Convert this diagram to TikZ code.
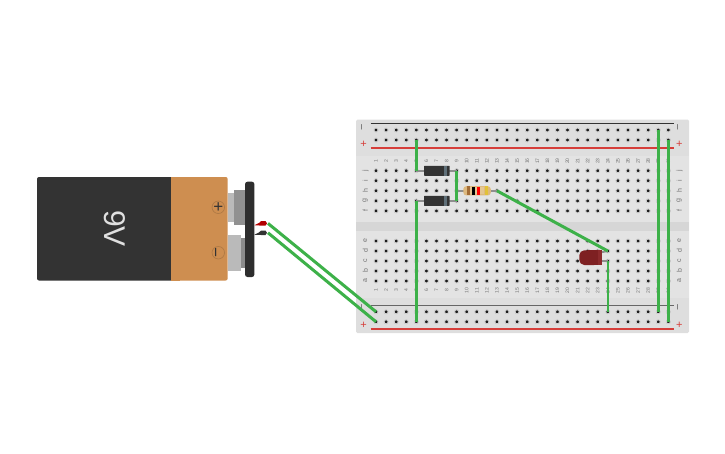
\documentclass[tikz,border=0pt]{standalone}
\usepackage{fontspec}
\setmainfont{Liberation Sans}
\definecolor{boardcol}{HTML}{DEDEDE}
\definecolor{stripcol}{HTML}{E3E3E3}
\definecolor{groovecol}{HTML}{D6D6D6}
\definecolor{holecol}{HTML}{1C1C1C}
\definecolor{halocol}{HTML}{CFCFCF}
\definecolor{wirecol}{HTML}{3DB149}
\definecolor{leadcol}{HTML}{8E8E8E}
\definecolor{plusred}{RGB}{214,62,58}
\definecolor{copper}{HTML}{CE8E50}
\definecolor{termline}{HTML}{B07A45}
\definecolor{caseblack}{HTML}{333333}
\definecolor{stripegrey}{HTML}{5F6F78}
\definecolor{restan}{HTML}{DDB97F}
\definecolor{resmid}{HTML}{E4C692}
\definecolor{ledred}{HTML}{7E2022}
\definecolor{ledrim}{HTML}{8C2A2C}
\begin{document}
\begin{tikzpicture}[x=1pt, y=-1pt, font=\sffamily,
                              hole/.style={shape=circle, fill=holecol, draw=halocol, line width=0.9, inner sep=0, minimum size=4},
                              wire/.style={draw=wirecol, line width=3},
                              thinwire/.style={draw=wirecol, line width=2.4},
                              lead/.style={draw=leadcol, line width=1.9},
                              tinylabel/.style={text=black!55, rotate=90, inner sep=0, font=\fontsize{5}{5}\selectfont},
                              rowlabel/.style={text=black!55, rotate=90, inner sep=0, font=\fontsize{7}{7}\selectfont},
                              minuslabel/.style={text=black!60, rotate=90, inner sep=0, font=\fontsize{11}{11}\selectfont},
                              pluslabel/.style={text=plusred, inner sep=0, font=\fontsize{11}{11}\selectfont},
                              diode/.style={shape=rectangle, fill=caseblack, rounded corners=0.5, minimum width=25.5, minimum height=10, inner sep=0},
                              band/.style={minimum width=2.4, minimum height=9, inner sep=0, shape=rectangle},
                              term/.style={shape=circle, draw=termline, line width=0.7, minimum size=12.5, inner sep=0}]
        \useasboundingbox (0,0) rectangle (725,453);

        % breadboard
        \fill[boardcol, rounded corners=1.5] (356,119.5) rectangle (689,333);
        \fill[stripcol] (356,155.5) rectangle (689,222);
        \fill[stripcol] (356,231) rectangle (689,297.5);
        \fill[groovecol] (356,222) rectangle (689,231);
        \draw[black!80, line width=1] (370.5,123.7) -- (674,123.7);
        \draw[plusred, line width=1.5] (370.5,147.9) -- (674,147.9);
        \draw[black!60, line width=1] (370.5,305) -- (674,305);
        \draw[plusred, line width=1.1] (370.5,329) -- (674,329);

        \foreach \rowname/\rowy in {tm/130, tp/140, j/170.7, i/180.7, h/190.8, g/200.9, f/210.9,
                                    e/241, d/251, c/261, b/271, a/281, bm/311.8, bp/321.8} {
            \foreach \col in {1,...,30} {
                \node[hole] (\rowname\col) at ({376+(\col-1)*10.08},\rowy) {};
            }
        }
        \foreach \col in {1,...,30} {
            \node[tinylabel] (numtop\col) at ({376+(\col-1)*10.08},161) {\col};
            \node[tinylabel] (numbot\col) at ({376+(\col-1)*10.08},290.5) {\col};
        }
        \foreach \rowname/\rowy in {j/170.7, i/180.7, h/190.8, g/200.9, f/210.9, e/241, d/251, c/261, b/271, a/281} {
            \node[rowlabel] (left\rowname) at (365.3,\rowy) {\rowname};
            \node[rowlabel] (right\rowname) at (679.3,\rowy) {\rowname};
        }
        \node[minuslabel] (minusa) at (363.4,127) {−};
        \node[minuslabel] (minusb) at (679.3,127) {−};
        \node[minuslabel] (minusc) at (363.4,307) {−};
        \node[minuslabel] (minusd) at (679.3,307.5) {−};
        \node[pluslabel] (plusa) at (363.6,144.6) {+};
        \node[pluslabel] (plusb) at (679.3,144.6) {+};
        \node[pluslabel] (plusc) at (363.6,325) {+};
        \node[pluslabel] (plusd) at (679.3,325) {+};

        % parts on the board
        \draw[lead] (j5.center) -- (j9.center);
        \draw[lead] (g5.center) -- (g9.center);
        \draw[lead] (h9.center) -- (h13.center);
        \node[diode] (diodea) at (436.8,170.8) {};
        \node[diode] (diodeb) at (436.8,200.9) {};
        \node[band, minimum width=3, minimum height=10, fill=stripegrey] (stripea) at (445.2,170.8) {};
        \node[band, minimum width=3, minimum height=10, fill=stripegrey] (stripeb) at (445.2,200.9) {};
        \draw[thinwire] (j9.center) -- (g9.center);

        \fill[restan, rounded corners=3] (463.3,186.2) rectangle (490.8,195.4);
        \fill[resmid] (469,187.2) rectangle (484,194.4);
        \node[band, fill=brown!85!black] (banda) at (468.4,190.8) {};
        \node[band, fill=black, minimum height=7.4] (bandb) at (473.6,190.8) {};
        \node[band, fill=red, minimum height=7.4] (bandc) at (478.4,190.8) {};
        \node[band, fill=yellow!50!brown] (bandd) at (486.6,190.8) {};

        \coordinate (ledtop) at (600,252.5);
        \coordinate (ledbot) at (600,261);
        \draw[lead] (ledtop) -- (d24.center);
        \draw[lead] (ledbot) -- (c24.center);
        \fill[ledred, rounded corners=5] (579.3,250.3) rectangle (599,265);
        \fill[ledred] (588,250.3) rectangle (599,265);
        \fill[ledrim] (597.5,249.8) rectangle (601.5,265.3);

        % battery
        \fill[caseblack, rounded corners=2] (37,177) rectangle (180,280.5);
        \fill[copper, rounded corners=2] (175,177) rectangle (227.7,280.5);
        \fill[copper] (171,177) rectangle (180,280.5);
        \fill[black!27] (227.7,192.7) rectangle (234,222.3);
        \fill[black!43] (234,190) rectangle (246,225);
        \fill[black!27] (227.7,235) rectangle (241,270.7);
        \fill[black!45] (241,238) rectangle (246,268);
        \fill[black!82, rounded corners=2.5] (245,181.7) rectangle (254.4,277);
        \node[text=white!88!black, rotate=-90, inner sep=0, font=\fontsize{30}{30}\selectfont] (volts) at (114.5,228.5) {9V};
        \node[term] (plusterm) at (218.3,207.3) {};
        \node[term] (minusterm) at (218.3,252.7) {};
        \node[text=black!80, inner sep=0, font=\fontsize{17}{17}\selectfont] (plussign) at (plusterm) {+};
        \node[text=black!80, rotate=90, inner sep=0, font=\fontsize{17}{17}\selectfont] (minussign) at (minusterm) {−};

        % battery leads
        \coordinate (redtip) at (268,223.4);
        \coordinate (blacktip) at (268,232.8);
        \fill[red!70!black] (254.4,225.2) -- (259,223) -- (261,221) -- (265.5,221) -- (267,223.4) -- (265.5,225.6) -- (261,225.6) -- cycle;
        \fill[black!80] (254.4,234.8) -- (259,232.4) -- (261,230.6) -- (265.5,230.6) -- (267,232.8) -- (265.5,235) -- (261,235) -- cycle;

        % wires
        \draw[wire] (tp5.center) -- (j5.center);
        \draw[wire] (g5.center) -- (bp5.center);
        \draw[wire] (h13.center) -- (d24.center);
        \draw[thinwire] (c24.center) -- (bm24.center);
        \draw[wire] (tm29.center) -- (bm29.center);
        \draw[wire] (tp30.center) -- (bp30.center);
        \draw[wire] (redtip) -- (bm1.center);
        \draw[wire] (blacktip) -- (bp1.center);
    \end{tikzpicture}
\end{document}
